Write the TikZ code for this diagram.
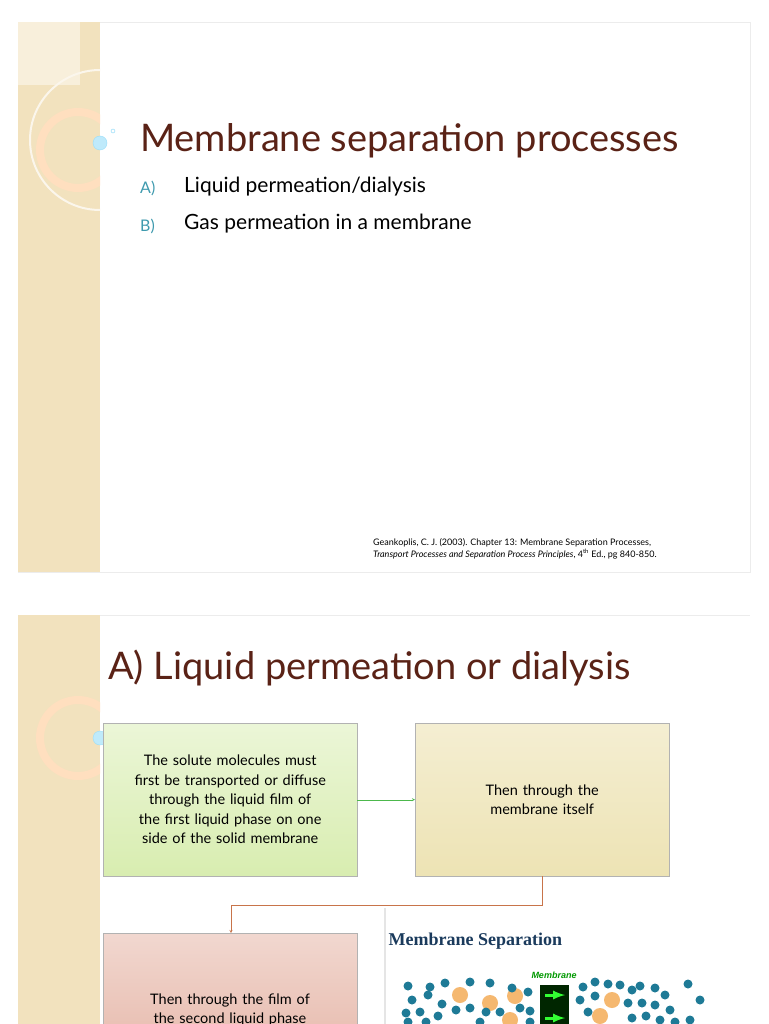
\documentclass[tikz,border=0pt]{standalone}
\usepackage{fontspec}
\setmainfont{Lato}
\newfontfamily\serifb{Liberation Serif}
\newfontfamily\sansb{Liberation Sans}
\definecolor{ttl}{HTML}{5A2216}
\definecolor{teal}{HTML}{3E9AAE}
\definecolor{side}{HTML}{F2E2BE}
\definecolor{gbox}{HTML}{D8EDB0}
\definecolor{ybox}{HTML}{EDE3B4}
\definecolor{rbox}{HTML}{E8BDB0}
\definecolor{orn}{HTML}{C8744A}
\definecolor{navy}{HTML}{1A3A5C}
\definecolor{dotc}{HTML}{1E7A96}
\definecolor{ball}{HTML}{F5B870}
\tikzset{box/.style={draw=gray!60,minimum width=254pt,minimum height=153pt,text width=215pt,align=center,font=\fontsize{14.5}{19.5}\selectfont}}
\begin{document}
\begin{tikzpicture}[x=1pt,y=-1pt]
\useasboundingbox (0,0) rectangle (768,1024);
\fill[white] (0,0) rectangle (768,1024);
% slide 1
\draw[gray!15] (18,22) rectangle (750,572);
\fill[side] (18,22) rectangle (100,572);
\begin{scope}
\clip (18,22) rectangle (100,572);
\fill[white!45!side] (18,22) rectangle (80,85);
\draw[white!70!side,line width=2pt] (100,140) circle (70);
\draw[orange!25,line width=8pt] (78,150) circle (38);
\end{scope}
\node[circle,fill=cyan!25,draw=cyan!40,minimum size=14pt,inner sep=0] (b1) at (100,143) {};
\node[circle,draw=cyan!50,minimum size=4pt,inner sep=0] (b2) at (113,131) {};
\node[anchor=west,text=ttl,font=\fontsize{38}{44}\selectfont,inner sep=0] (t1) at (140,141) {Membrane separation processes};
\node[anchor=west,text=teal,font=\fontsize{16}{18}\selectfont,inner sep=0] (la) at (140,188) {A)};
\node[anchor=west,font=\fontsize{21}{24}\selectfont,inner sep=0] (ia) at (184,187) {Liquid permeation/dialysis};
\node[anchor=west,text=teal,font=\fontsize{16}{18}\selectfont,inner sep=0] (lb) at (140,226) {B)};
\node[anchor=west,font=\fontsize{21}{24}\selectfont,inner sep=0] (ib) at (184,224) {Gas permeation in a membrane};
\node[anchor=north west,font=\fontsize{9}{12.5}\selectfont,align=left,inner sep=0] (cit) at (373,538) {Geankoplis, C. J. (2003). Chapter 13: Membrane Separation Processes,\\ \textit{Transport Processes and Separation Process Principles}, 4\textsuperscript{th} Ed., pg 840-850.};
% slide 2
\draw[gray!15] (18,615) -- (750,615);
\fill[side] (18,615) rectangle (100,1024);
\begin{scope}
\clip (18,615) rectangle (100,1024);
\draw[orange!25,line width=8pt] (78,738) circle (38);
\end{scope}
\node[circle,fill=cyan!25,draw=cyan!40,minimum size=14pt,inner sep=0] (b3) at (100,738) {};
\node[anchor=west,text=ttl,font=\fontsize{38}{44}\selectfont,inner sep=0] (t2) at (108,668) {A) Liquid permeation or dialysis};
\node[box,anchor=north west,top color=gbox!50,bottom color=gbox] (g) at (103,723) {The solute molecules must first be transported or diffuse through the liquid film of the first liquid phase on one side of the solid membrane};
\node[box,anchor=north west,top color=ybox!60,bottom color=ybox] (y) at (415,723) {Then through the membrane itself};
\node[box,anchor=north west,top color=rbox!60,bottom color=rbox,minimum height=110pt] (r) at (103,933) {};
\node[font=\fontsize{14.5}{19.5}\selectfont,text width=215pt,align=center,anchor=north] (rt) at (230,990) {Then through the film of the second liquid phase};
\draw[-stealth,green!60!black!70] (g.east) -- (y.west);
\draw[-stealth,orn] (y.south) |- (231,905) coordinate (k) -- (r.north-|k);
\draw[gray!20,line width=1.5pt] (385,908) -- (385,1024);
\node[anchor=west,text=navy,font=\serifb\bfseries\fontsize{18}{20}\selectfont] (ms) at (385,941) {Membrane Separation};
\node[text=green!60!black,font=\sansb\bfseries\itshape\fontsize{9}{10}\selectfont] (mm) at (554,975) {Membrane};
\fill[green!15!black] (540,985) rectangle (569,1024);
\foreach \x/\y in {460/995,490/1003,515/996,510/1020,600/1016,612/1000}{\fill[ball] (\x,\y) circle (8);}
\foreach \x/\y in {408/986,430/987,445/983,470/982,490/983,512/988,528/992,412/1000,428/995,442/1004,456/1010,470/1008,486/1012,500/1012,520/1008,530/1011,406/1013,420/1012,438/1016,408/1022,426/1022,480/1022,530/1022,583/987,595/982,608/984,620/985,632/990,640/986,655/988,665/995,688/984,580/1000,595/996,628/1003,642/1003,655/1005,670/1010,588/1012,632/1018,646/1016,660/1020,675/1022,690/1020,700/1000}{\fill[dotc] (\x,\y) circle (4.5);}
\draw[green!80,line width=3pt,-latex] (545,995) -- (565,995);
\draw[green!80,line width=3pt,-latex] (545,1018) -- (565,1018);
\end{tikzpicture}
\end{document}
